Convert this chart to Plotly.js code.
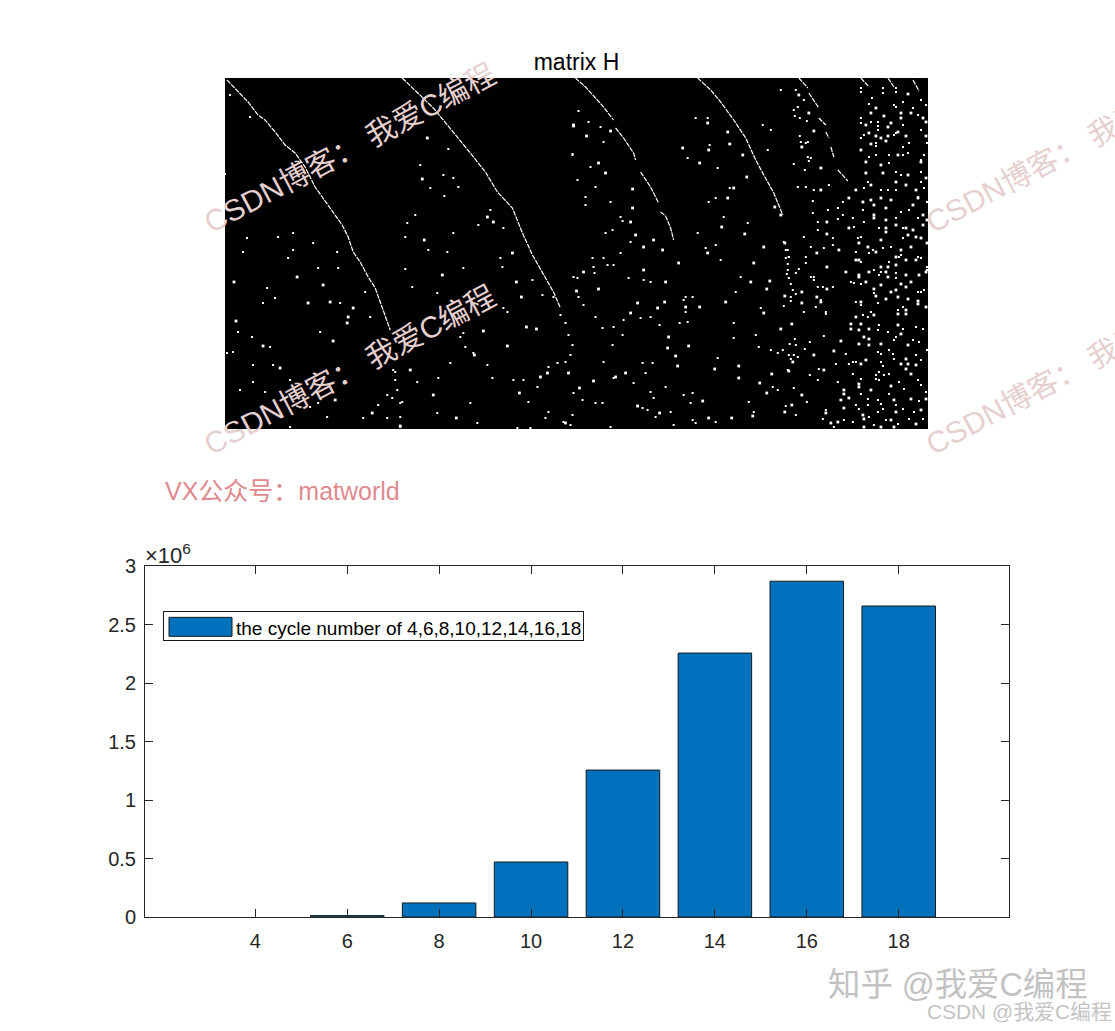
<!DOCTYPE html>
<html>
<head>
<meta charset="utf-8">
<script src="https://cdn.plot.ly/plotly-3.0.1.min.js"></script>
<style>html,body{margin:0;padding:0;background:#fff;overflow:hidden}</style>
</head>
<body>
<div id="chart" style="width:1115px;height:1031px"></div>
<script>
// ---- cycle-count bar chart ----
const cycleLengths = [4, 6, 8, 10, 12, 14, 16, 18];
const cycleCounts = [null, 12000, 120000, 470000, 1256000, 2256000, 2870000, 2658000];
const barTickVals = [4, 6, 8, 10, 12, 14, 16, 18];
const countTickVals = [0, 500000, 1000000, 1500000, 2000000, 2500000, 3000000];
const countTickText = ['0', '0.5', '1', '1.5', '2', '2.5', '3'];
const legendLabel = 'the cycle number of 4,6,8,10,12,14,16,18';

// ---- matrix H: ones as [column,row] ----
const ridgeCells = [
[2,2],[12,12],[23,24],[33,37],[40,42],[50,54],[60,67],[70,75],[80,89],[90,109],[98,120],[108,134],[117,147],[123,159],[128,174],[135,184],[143,199],[150,210],[155,224],[160,240],[165,252],null,
[177,0],[192,15],[208,30],[222,47],[233,60],[245,75],[260,94],[272,114],[287,130],[297,155],[307,177],[318,197],[328,214],[335,230],null,
[350,0],[360,9],[370,20],[378,29],[388,42],null,[390,50],[398,60],[408,75],[410,82],null,[415,94],[425,109],[433,125],null,[435,134],[440,138],[445,150],[448,162],null,
[472,0],[485,12],[495,24],[508,42],[520,60],[530,82],[538,97],[548,115],[557,137],null,
[573,0],[582,10],null,[583,15],[593,30],null,[593,40],[600,47],null,[600,54],[603,60],null,[605,69],[608,79],null,[612,92],[622,103],null,
[635,0],[643,9],null,[662,0],[668,9],null,[687,2],[693,13]];

const largeCells = [
[202,60],[197,101],[199,162],[217,197],[72,199],[9,204],[98,207],[105,224],[83,225],[128,230],[123,239],[11,243],[122,245],[38,268],[108,263],[258,253],[291,204],[296,219],[311,251],[301,249],[282,268],[249,277],[185,292],[322,295],[294,315],[208,317],[147,335],[231,340],[175,348],[348,47],[343,295],[287,175],[268,144],[262,139],[55,290],[110,322],[340,345],[315,299],
[348,48],[361,58],[385,53],[373,85],[380,95],[407,111],[407,130],[405,144],[410,157],[428,162],[418,169],[437,172],[453,185],[358,194],[418,192],[440,204],[373,211],[351,213],[412,225],[439,224],[432,230],[474,229],[460,229],[405,235],[500,224],[482,175],[457,70],[474,85],[483,72],[482,45],[502,54],[504,66],[517,77],[521,99],[502,120],[508,110],[549,129],[496,149],[519,156],[538,169],[528,185],[544,203],[525,204],[541,211],[538,235],[450,278],[442,270],[443,259],[463,268],[452,288],[400,295],[368,303],[354,310],[412,328],[390,299],[434,335],[477,323],[513,288],[489,291],[513,300],[534,305],[546,296],[541,315],[506,340],[527,338],[483,340],
[682,16],[650,30],[583,35],[675,35],[685,35],[697,40],[700,44],[658,38],[645,35],[675,40],[640,47],[662,49],[588,53],[650,58],[672,54],[680,58],[643,55],[662,58],[665,45],[700,58],[576,69],[645,66],[660,63],[655,60],[635,72],[672,77],[595,90],[640,84],[655,87],[657,95],[640,95],[682,97],[670,104],[630,112],[595,112],[645,107],[700,100],[680,107],[690,112],[695,84],[573,17],
[555,137],[601,144],[623,150],[601,156],[559,165],[591,175],[613,172],[601,189],[620,194],[633,197],[633,199],[643,194],[637,124],[623,120],[645,122],[655,120],[665,122],[648,127],[660,130],[648,137],[648,140],[660,142],[670,147],[680,150],[687,152],[697,147],[701,142],[697,137],[687,127],[692,120],[682,157],[690,159],[695,160],[701,165],[685,169],[675,172],[660,150],[660,154],[655,162],[633,165],[642,169],[633,182],[630,182],[650,174],[670,179],[680,182],[690,182],[670,187],[662,189],[655,189],[660,194],[680,197],[693,197],[700,194],[662,199],[675,206],[685,204],[655,207],[670,212],[665,214],[680,209],[650,218],[660,221],[672,219],[682,221],[576,214],[601,211],[591,219],[595,224],[576,225],[559,218],[692,223],[692,226],[700,229],[680,232],[635,224],[648,211],[640,204],
[555,251],[566,246],[630,239],[625,246],[635,246],[625,251],[633,252],[638,259],[643,251],[643,261],[655,266],[615,263],[633,266],[643,267],[682,267],[588,277],[608,273],[567,284],[640,282],[635,286],[680,281],[675,286],[682,286],[690,287],[680,291],[685,296],[598,292],[563,293],[633,306],[633,309],[618,312],[618,316],[645,312],[623,320],[615,322],[576,317],[566,327],[559,334],[618,330],[670,334],[665,308],[700,321],[685,321],[668,322],[605,345],[600,335],[637,337],[665,342],[690,346],[680,236],[672,236],[648,237],[675,256],[672,247],[655,349],[668,349],[638,349],[612,344],[695,332],[638,341]];

const smallCells = [
[335,237],[340,245],[343,257],[347,267],[345,277],[340,284],[332,285],[323,289],[235,259],[240,269],[248,275],[170,294],[170,302],[172,312],[175,325],[175,339],[175,349],[558,164],[560,172],[563,179],[562,192],[563,200],[567,212],[565,219],[588,199],[592,209],[595,222],
[5,17],[25,39],[0,96],[223,71],[195,87],[205,110],[219,118],[228,100],[233,109],[218,97],[190,137],[182,145],[253,147],[265,132],[278,150],[180,159],[228,155],[203,172],[222,174],[275,180],[277,189],[180,191],[238,190],[22,160],[53,159],[68,155],[88,165],[18,174],[68,172],[63,180],[112,174],[93,190],[113,190],[42,210],[140,214],[187,209],[212,215],[38,225],[50,220],[115,225],[145,239],[13,254],[27,259],[45,269],[95,254],[8,274],[2,275],[28,287],[48,287],[65,302],[15,312],[28,304],[40,314],[60,320],[93,325],[85,329],[102,339],[65,349],[153,327],[162,317],[167,320],[177,324],[168,292],[192,304],[213,300],[138,340],[162,340],[212,335],[245,325],[252,345],[225,285],[238,255],[262,287],[267,300],[288,302],[298,302],[312,309],[303,324],[323,334],[338,344],[348,315],[328,219],[317,217],[278,230],[282,234],[307,202],[347,77],[352,102],[348,199],[353,219],[305,350],[345,347],[292,350],[320,340],
[353,33],[363,44],[375,49],[378,64],[347,76],[365,89],[370,109],[360,119],[360,127],[385,124],[395,139],[397,143],[405,164],[395,175],[380,155],[387,152],[378,180],[367,180],[368,189],[369,195],[382,187],[388,187],[352,200],[403,200],[418,202],[425,204],[358,227],[370,239],[388,249],[398,242],[397,257],[387,267],[377,250],[415,240],[425,239],[434,247],[454,245],[460,234],[462,244],[460,219],[467,219],[480,170],[472,155],[490,167],[495,182],[522,145],[498,139],[483,124],[490,120],[470,40],[482,40],[462,80],[484,67],[492,90],[504,110],[542,72],[537,47],[545,52],[555,12],[515,199],[510,214],[458,222],[535,230],[508,245],[530,257],[508,260],[492,280],[533,269],[545,272],[552,275],[417,285],[427,285],[420,295],[408,305],[425,314],[428,320],[440,309],[458,317],[467,315],[465,325],[378,284],[388,300],[357,322],[370,325],[377,325],[347,337],[417,330],[422,332],[445,334],[430,339],[467,342],[470,345],[490,344],[523,324],[528,334],[547,309],[552,312],[385,349],[448,347],
[570,12],[578,22],[568,32],[572,29],[569,38],[574,40],[581,43],[574,58],[582,64],[580,65],[575,64],[582,79],[585,80],[583,83],[568,86],[579,92],[572,109],[580,109],[588,112],[603,107],[635,10],[635,14],[646,20],[643,26],[635,40],[635,45],[645,44],[652,44],[652,48],[652,52],[638,57],[635,60],[650,65],[650,68],[670,29],[668,27],[677,24],[687,30],[692,37],[677,47],[670,55],[668,57],[701,65],[695,52],[657,10],[657,15],[670,10],[670,14],[695,22],[700,27],[698,77],[695,82],[683,65],[677,69],[682,75],[677,77],[663,77],[663,85],[643,79],[650,77],[670,94],[675,97],[695,94],[695,104],[642,104],[638,110],[655,112],[670,112],[698,110],[662,112],
[587,123],[602,132],[612,130],[617,137],[587,135],[592,144],[592,152],[578,159],[607,160],[607,167],[585,169],[598,170],[562,172],[563,179],[560,180],[580,179],[580,185],[573,191],[562,186],[561,196],[570,195],[585,199],[588,202],[565,206],[597,209],[607,209],[570,216],[565,223],[558,228],[590,229],[600,234],[632,160],[628,149],[638,144],[653,150],[635,159],[630,174],[647,172],[643,175],[635,184],[625,204],[628,205],[635,206],[648,215],[653,197],[655,194],[648,192],[675,177],[673,179],[692,179],[695,180],[701,189],[701,192],[670,200],[670,195],[663,184],[657,170],[665,169],[677,160],[677,150],[683,132],[675,134],[692,140],[701,124],[692,119],[670,140],[637,132],[627,140],[617,124],[612,141],[630,224],[635,227],[645,234],[677,229],[672,232],[652,225],[695,214],[698,212],[692,214],
[578,234],[600,236],[637,237],[642,239],[653,247],[652,252],[662,254],[670,259],[668,262],[687,262],[693,264],[697,251],[690,249],[677,251],[598,258],[569,261],[564,266],[570,267],[579,271],[584,264],[557,272],[563,277],[568,277],[572,279],[565,281],[620,276],[623,286],[627,284],[630,284],[610,286],[652,274],[655,276],[663,272],[667,276],[668,281],[655,284],[657,288],[701,272],[695,282],[690,277],[593,291],[584,297],[592,302],[612,304],[627,296],[650,297],[653,294],[658,297],[663,296],[653,302],[650,301],[635,316],[642,321],[652,322],[655,326],[663,316],[673,304],[678,311],[692,302],[695,307],[700,314],[693,323],[635,301],[562,292],[568,310],[581,324],[560,328],[570,337],[597,341],[600,332],[630,327],[633,331],[642,327],[652,334],[657,331],[660,342],[670,327],[677,331],[688,334],[697,341],[683,341],[672,346],[648,347],[608,349],[618,342],[627,344],[643,339]];

const columnsOf = list => list.map(c => c ? c[0] : null);
const rowsOf = list => list.map(c => c ? c[1] : null);

// ---- page geometry and styling ----
const W = 1115, H = 1031;
const px = v => v / W;
const py = v => 1 - v / H;
const FONT = '"Liberation Sans", Arial, "Noto Sans CJK SC", sans-serif';
const INK = '#262626';
const WM = '#e5cfcf';

const stamp = (x, y) => ({
  xref: 'paper', yref: 'paper', x: px(x), y: py(y), xanchor: 'center', yanchor: 'middle',
  text: 'CSDN博客： 我爱C编程', textangle: -28, showarrow: false,
  font: {family: FONT, size: 30, color: WM}
});

const traces = [
  {type: 'scatter', mode: 'lines', x: columnsOf(ridgeCells), y: rowsOf(ridgeCells), xaxis: 'x', yaxis: 'y',
   line: {color: '#ffffff', width: 1.2, dash: '5px,1px'}, showlegend: false, hoverinfo: 'skip'},
  {type: 'scatter', mode: 'markers', x: columnsOf(smallCells), y: rowsOf(smallCells), xaxis: 'x', yaxis: 'y',
   marker: {symbol: 'square', size: 2, color: '#ffffff'}, showlegend: false, hoverinfo: 'skip'},
  {type: 'scatter', mode: 'markers', x: columnsOf(largeCells), y: rowsOf(largeCells), xaxis: 'x', yaxis: 'y',
   marker: {symbol: 'square', size: 2.8, color: '#ffffff'}, showlegend: false, hoverinfo: 'skip'},
  {type: 'bar', x: cycleLengths, y: cycleCounts, width: 1.6, xaxis: 'x2', yaxis: 'y2', name: legendLabel,
   marker: {color: '#0072BD', line: {color: '#1a1a1a', width: 1}}, showlegend: true}
];

const layout = {
  width: W, height: H, autosize: false,
  margin: {l: 0, r: 0, t: 0, b: 0, pad: 0},
  paper_bgcolor: '#ffffff', plot_bgcolor: 'rgba(0,0,0,0)',
  font: {family: FONT, color: INK},
  title: {text: 'matrix H', x: px(576.5), y: py(62), xanchor: 'center', yanchor: 'middle', font: {family: FONT, size: 23, color: '#000000'}},
  xaxis: {domain: [px(225), px(928)], range: [0, 702], visible: false, fixedrange: true},
  yaxis: {domain: [py(429), py(78)], range: [351, 0], visible: false, fixedrange: true},
  xaxis2: {domain: [px(145), px(1009)], anchor: 'y2', range: [1.6, 20.4], tickvals: barTickVals, ticks: 'inside', ticklen: 8, ticklabelstandoff: 6,
    tickcolor: INK, tickwidth: 1, showline: true, linecolor: INK, linewidth: 1, mirror: 'allticks', showgrid: false, zeroline: false,
    tickfont: {family: FONT, size: 20, color: INK}, fixedrange: true},
  yaxis2: {domain: [py(917), py(566)], anchor: 'x2', range: [0, 3000000], tickvals: countTickVals, ticktext: countTickText, ticks: 'inside', ticklen: 8, ticklabelstandoff: 4,
    tickcolor: INK, tickwidth: 1, showline: true, linecolor: INK, linewidth: 1, mirror: 'allticks', showgrid: false, zeroline: false,
    tickfont: {family: FONT, size: 20, color: INK}, fixedrange: true},
  legend: {x: px(163), y: py(608), xanchor: 'left', yanchor: 'top', bgcolor: '#ffffff', bordercolor: '#1a1a1a', borderwidth: 1,
    font: {family: FONT, size: 19, color: '#000000'}, itemwidth: 62, itemsizing: 'trace'},
  shapes: [{type: 'rect', xref: 'x domain', yref: 'y domain', x0: 0, x1: 1, y0: 0, y1: 1, layer: 'below', fillcolor: '#000000', line: {width: 0}}],
  annotations: [
    stamp(349, 148), stamp(349, 370), stamp(1071, 148), stamp(1071, 370),
    {xref: 'paper', yref: 'paper', x: px(163), y: py(491), xanchor: 'left', yanchor: 'middle', showarrow: false,
     text: 'VX公众号：matworld', font: {family: FONT, size: 25, color: '#e08a8f'}},
    {xref: 'paper', yref: 'paper', x: px(143), y: py(554), xanchor: 'left', yanchor: 'middle', showarrow: false,
     text: '×10<sup>6</sup>', font: {family: FONT, size: 22, color: INK}},
    {xref: 'paper', yref: 'paper', x: px(826), y: py(985), xanchor: 'left', yanchor: 'middle', showarrow: false,
     text: '知乎 @我爱C编程', font: {family: FONT, size: 32.4, color: '#c2c2c2'}},
    {xref: 'paper', yref: 'paper', x: px(925), y: py(1011), xanchor: 'left', yanchor: 'middle', showarrow: false,
     text: 'CSDN @我爱C编程', font: {family: FONT, size: 20.9, color: '#c4c4c4'}}
  ]
};

Plotly.newPlot('chart', traces, layout, {displayModeBar: false, responsive: false}).then(() => {
  // MATLAB-style wide legend key and slim box
  document.querySelectorAll('.legendpoints path').forEach(p => {
    p.setAttribute('d', 'M-31,-10.5H32V8.5H-31Z');
  });
  const bg = document.querySelector('.legend .bg');
  if (bg) {
    bg.setAttribute('y', '3');
    bg.setAttribute('height', '29');
    bg.setAttribute('width', '420');
  }
});
</script>
</body>
</html>
